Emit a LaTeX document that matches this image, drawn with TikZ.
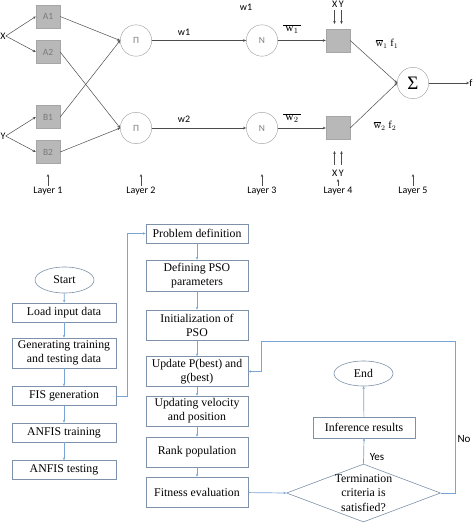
\documentclass[tikz,border=0pt]{standalone}
\usepackage{fontspec}
\setmainfont{Liberation Serif}
\newfontfamily\carl{Carlito}
\usetikzlibrary{arrows.meta,shapes.geometric}
\definecolor{flline}{RGB}{120,165,212}
\definecolor{flbord}{RGB}{125,145,170}
\begin{document}
\begin{tikzpicture}[x=1pt,y=-1pt,
  lab/.style={font=\carl\fontsize{10}{12}\selectfont, inner sep=0pt},
  slab/.style={font=\fontsize{11.5}{13}\selectfont, inner sep=0pt},
  gbox/.style={rectangle, fill=black!28, draw=black!35, minimum width=24pt, minimum height=23pt, inner sep=0pt, text=black!52, font=\carl\fontsize{9.5}{11}\selectfont},
  sbox/.style={rectangle, fill=black!28, draw=black!35, minimum width=24pt, minimum height=23pt, inner sep=0pt},
  circ/.style={circle, draw=black!40, minimum size=31.4pt, inner sep=0pt, text=black!50, font=\carl\fontsize{9.5}{11}\selectfont},
  tl/.style={draw=black!70, line width=0.5pt, -{Stealth[length=3pt,width=2.6pt]}},
  fbox/.style={rectangle, draw=flbord, line width=0.6pt, align=center, inner sep=1pt, font=\fontsize{11.8}{14}\selectfont},
  term/.style={ellipse, draw=flbord, line width=0.6pt, inner sep=0pt, minimum width=59pt, minimum height=26pt, font=\fontsize{11.8}{14}\selectfont},
  fl/.style={draw=flline, line width=0.7pt, -{Stealth[length=2.8pt,width=2.4pt]}}
]
\useasboundingbox (0,0) rectangle (474,523);
% ---------------- ANFIS network ----------------
\node[lab] (X) at (3,36) {X};
\node[lab] (Y) at (3,136) {Y};
\node[gbox] (A1) at (48,16.5) {A1};
\node[gbox] (A2) at (48,52) {A2};
\node[gbox] (B1) at (48,117) {B1};
\node[gbox] (B2) at (48,152) {B2};
\node[circ] (P1) at (136,40.5) {Π};
\node[circ] (P2) at (136,128) {Π};
\node[circ] (N1) at (262,40.5) {N};
\node[circ] (N2) at (262,128) {N};
\node[sbox] (S1) at (338,40.5) {};
\node[sbox] (S2) at (338,128) {};
\node[circ, text=black, font=\fontsize{19}{19}\selectfont] (Sg) at (413,83) {Σ};
\node[lab] (f) at (471,83) {f};

\draw[tl] (X.east) -- (A1.west);
\draw[tl] (X.east) -- (A2.west);
\draw[tl] (Y.east) -- (B1.west);
\draw[tl] (Y.east) -- (B2.west);
\draw[tl] (A1.east) -- (P1.west);
\draw[tl] (B1.east) -- (P1.west);
\draw[tl] (A2.east) -- (P2.west);
\draw[tl] (B2.east) -- (P2.west);
\draw[tl] (P1.east) -- (N1.west);
\draw[tl] (P2.east) -- (N2.west);
\draw[tl] (N1.east) -- (S1.west);
\draw[tl] (N2.east) -- (S2.west);
\draw[tl] (S1.east) -- (Sg.west);
\draw[tl] (S2.east) -- (Sg.west);
\draw[tl] (Sg.east) -- (f.west);

\node[lab] (lw1) at (184,32) {w1};
\node[lab] (lw2) at (184,119) {w2};
\node[lab] (lw1t) at (246,7) {w1};
\node[slab] (nw1) at (292,29) {$\overline{\,\mathrm{w}_1\,}$};
\node[slab] (nw2) at (292,118) {$\overline{\,\mathrm{w}_2\,}$};
\node[slab, font=\fontsize{10.5}{12}\selectfont] (wf1) at (387,44) {$\overline{\mathrm{w}}_1\ \mathrm{f}_1$};
\node[slab, font=\fontsize{10.5}{12}\selectfont] (wf2) at (385,126) {$\overline{\mathrm{w}}_2\ \mathrm{f}_2$};

\node[lab] (xyt) at (338,4) {X\,Y};
\coordinate (xt1) at (334.5,10);  \coordinate (xt2) at (334.5,24);
\coordinate (yt1) at (341.5,10);  \coordinate (yt2) at (341.5,24);
\draw[tl] (xt1) -- (xt2);
\draw[tl] (yt1) -- (yt2);
\node[lab] (xyb) at (338,173) {X\,Y};
\coordinate (xb1) at (334.5,165);  \coordinate (xb2) at (334.5,151);
\coordinate (yb1) at (341.5,165);  \coordinate (yb2) at (341.5,151);
\draw[tl] (xb1) -- (xb2);
\draw[tl] (yb1) -- (yb2);

\foreach \n/\x/\t in {L1/48/Layer 1, L2/141/Layer 2, L3/262/Layer 3, L4/338/Layer 4, L5/413/Layer 5}{
  \node[lab] (\n) at (\x,191) {\t};
  \coordinate (\n a) at (\x,185.5);
  \coordinate (\n b) at (\x,174);
}
\foreach \n in {L1,L2,L3,L5}{ \draw[tl] (\n a) -- (\n b); }
\coordinate (L4c) at (338,179);
\draw[tl] (L4a) -- (L4c);

% ---------------- Flowchart ----------------
\node[term] (start) at (64.5,280) {Start};
\node[fbox, minimum width=104pt, minimum height=19pt] (load) at (64,312.5) {Load input data};
\node[fbox, minimum width=104pt, minimum height=30pt] (gen) at (64,353) {Generating training\\and testing data};
\node[fbox, minimum width=104pt, minimum height=19pt] (fis) at (64,396) {FIS generation};
\node[fbox, minimum width=104pt, minimum height=19pt] (tr) at (64,432.5) {ANFIS training};
\node[fbox, minimum width=104pt, minimum height=19pt] (te) at (64,470) {ANFIS testing};

\node[fbox, minimum width=102pt, minimum height=19pt] (pd) at (197,233.5) {Problem definition};
\node[fbox, minimum width=102pt, minimum height=31pt] (dp) at (197,275.5) {Defining PSO\\parameters};
\node[fbox, minimum width=102pt, minimum height=30pt] (ini) at (197,325) {Initialization of\\PSO};
\node[fbox, minimum width=102pt, minimum height=30pt] (upd) at (197,371.5) {Update P(best) and\\g(best)};
\node[fbox, minimum width=102pt, minimum height=30pt] (vel) at (197,411) {Updating velocity\\and position};
\node[fbox, minimum width=102pt, minimum height=30pt] (rank) at (197,452) {Rank population};
\node[fbox, minimum width=102pt, minimum height=30pt] (fit) at (197,492) {Fitness evaluation};

\node[diamond, draw=flbord, line width=0.6pt, minimum width=154pt, minimum height=58pt, inner sep=0pt] (dec) at (363.5,493) {};
\node[align=center, inner sep=0pt, font=\fontsize{11.8}{14.5}\selectfont] (dect) at (dec.center) {Termination\\criteria is\\satisfied?};
\node[fbox, minimum width=102pt, minimum height=21pt] (inf) at (364,427.5) {Inference results};
\node[term, minimum height=25pt] (end) at (363.5,373.5) {End};

\draw[fl] (start) -- (load);
\draw[fl] (load) -- (gen);
\draw[fl] (gen) -- (fis);
\draw[fl] (fis) -- (tr);
\draw[fl] (tr) -- (te);
\coordinate (fc) at (127,396);
\draw[fl] (fis.east) -- (fc) |- (pd.west);
\draw[fl] (pd) -- (dp);
\draw[fl] (dp) -- (ini);
\draw[fl] (ini) -- (upd);
\draw[fl] (upd) -- (vel);
\draw[fl] (vel) -- (rank);
\draw[fl] (rank) -- (fit);
\draw[fl] (fit) -- (dec.west);
\draw[fl] (dec.north) -- (inf.south);
\draw[fl] (inf) -- (end);
\coordinate (c1) at (455,341);
\coordinate (c2) at (261,341);
\draw[fl] (dec.east) -| (c1) -- (c2) |- (upd.east);
\node[lab, font=\carl\fontsize{11}{13}\selectfont] (yes) at (377,457) {Yes};
\node[lab, font=\carl\fontsize{11}{13}\selectfont] (no) at (464,439) {No};
\end{tikzpicture}
\end{document}
